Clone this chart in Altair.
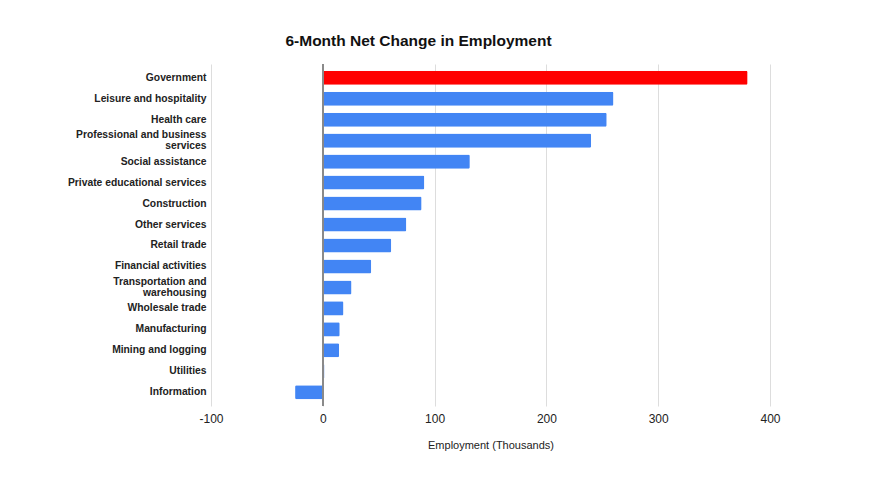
import altair as alt
import pandas as pd

categories = [
    "Government", "Leisure and hospitality", "Health care",
    "Professional and business services", "Social assistance",
    "Private educational services", "Construction", "Other services",
    "Retail trade", "Financial activities", "Transportation and warehousing",
    "Wholesale trade", "Manufacturing", "Mining and logging", "Utilities",
    "Information",
]
values = [380, 260, 254, 240, 131.5, 90.8, 88.4, 74.7, 61.2, 43.3, 25.7, 18.5, 15.2, 14.6, 1.5, -24.8]
colors = ["#FF0000"] + ["#4285F4"] * 15
x_ticks = [-100, 0, 100, 200, 300, 400]

df = pd.DataFrame({"category": categories, "value": values, "color": colors})

font = "Liberation Sans"

label_expr = (
    "datum.label == 'Professional and business services' ? ['Professional and business', 'services'] : "
    "datum.label == 'Transportation and warehousing' ? ['Transportation and', 'warehousing'] : datum.label"
)
two_line_test = (
    "datum.value == 'Professional and business services' || "
    "datum.value == 'Transportation and warehousing'"
)

bars = alt.Chart(df).mark_bar(cornerRadius=1.5).encode(
    y=alt.Y(
        "category:N",
        sort=categories,
        scale=alt.Scale(paddingInner=0.33, paddingOuter=0.32),
        axis=alt.Axis(
            title=None, ticks=False, domain=False, labelFont=font,
            labelFontSize=10.3, labelFontWeight="bold", labelColor="#222222",
            labelPadding=5, labelExpr=label_expr, labelLineHeight=10.7,
            labelLimit=300,
            labelOffset=alt.condition(two_line_test, alt.value(-5.5), alt.value(0)),
        ),
    ),
    x=alt.X(
        "value:Q",
        scale=alt.Scale(domain=[-100, 400], nice=False),
        axis=alt.Axis(
            title="Employment (Thousands)", values=x_ticks, ticks=False,
            domain=False, grid=True, gridColor="#dddddd", labelFont=font,
            labelFontSize=12, labelColor="#222222", labelPadding=7,
            labelFlush=False, labelExpr="'' + datum.value",
            titleFont=font, titleFontSize=11, titleFontWeight="normal",
            titleColor="#222222", titlePadding=15,
        ),
    ),
    color=alt.Color("color:N", scale=None),
)

zero = alt.Chart(df).mark_rule(color="#8a8a8a", strokeWidth=1).encode(
    x=alt.datum(0)
)

chart = alt.layer(bars, zero).properties(
    width=559,
    height=342,
    background="white",
    autosize=alt.AutoSizeParams(type="none"),
    padding={"left": 203, "top": 56, "right": 98, "bottom": 59},
    title=alt.TitleParams(
        "6-Month Net Change in Employment", font=font, fontSize=15.5,
        fontWeight="bold", color="#111111", anchor="middle", dx=-72, offset=14,
    ),
).configure_view(stroke=None)

chart.save("out.html", embed_options={"renderer": "svg", "actions": False})
